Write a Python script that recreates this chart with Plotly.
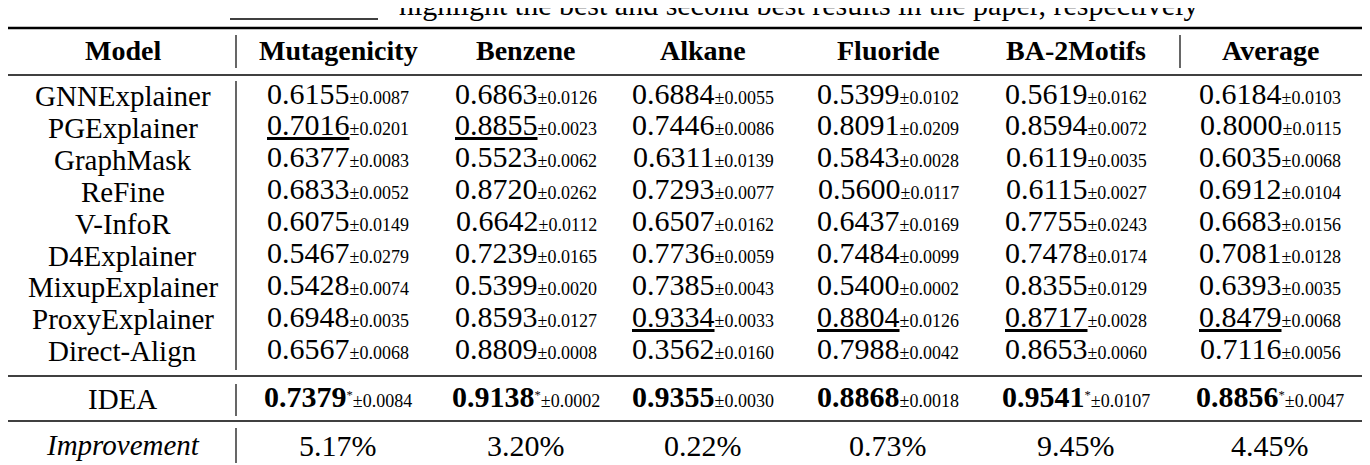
import plotly.graph_objects as go

# Table content
models = ["GNNExplainer", "PGExplainer", "GraphMask", "ReFine", "V-InfoR",
          "D4Explainer", "MixupExplainer", "ProxyExplainer", "Direct-Align"]
columns = ["Mutagenicity", "Benzene", "Alkane", "Fluoride", "BA-2Motifs", "Average"]

mutagenicity = [0.6155, 0.7016, 0.6377, 0.6833, 0.6075, 0.5467, 0.5428, 0.6948, 0.6567]
mutagenicity_std = [0.0087, 0.0201, 0.0083, 0.0052, 0.0149, 0.0279, 0.0074, 0.0035, 0.0068]
benzene = [0.6863, 0.8855, 0.5523, 0.8720, 0.6642, 0.7239, 0.5399, 0.8593, 0.8809]
benzene_std = [0.0126, 0.0023, 0.0062, 0.0262, 0.0112, 0.0165, 0.0020, 0.0127, 0.0008]
alkane = [0.6884, 0.7446, 0.6311, 0.7293, 0.6507, 0.7736, 0.7385, 0.9334, 0.3562]
alkane_std = [0.0055, 0.0086, 0.0139, 0.0077, 0.0162, 0.0059, 0.0043, 0.0033, 0.0160]
fluoride = [0.5399, 0.8091, 0.5843, 0.5600, 0.6437, 0.7484, 0.5400, 0.8804, 0.7988]
fluoride_std = [0.0102, 0.0209, 0.0028, 0.0117, 0.0169, 0.0099, 0.0002, 0.0126, 0.0042]
ba2motifs = [0.5619, 0.8594, 0.6119, 0.6115, 0.7755, 0.7478, 0.8355, 0.8717, 0.8653]
ba2motifs_std = [0.0162, 0.0072, 0.0035, 0.0027, 0.0243, 0.0174, 0.0129, 0.0028, 0.0060]
average = [0.6184, 0.8000, 0.6035, 0.6912, 0.6683, 0.7081, 0.6393, 0.8479, 0.7116]
average_std = [0.0103, 0.0115, 0.0068, 0.0104, 0.0156, 0.0128, 0.0035, 0.0068, 0.0056]
# index of second best (underlined) per column
second_best = [1, 1, 7, 7, 7, 7]

idea = [0.7379, 0.9138, 0.9355, 0.8868, 0.9541, 0.8856]
idea_std = [0.0084, 0.0002, 0.0030, 0.0018, 0.0107, 0.0047]
idea_star = [True, True, False, False, True, True]
improvement = ["5.17%", "3.20%", "0.22%", "0.73%", "9.45%", "4.45%"]

values = [mutagenicity, benzene, alkane, fluoride, ba2motifs, average]
stds = [mutagenicity_std, benzene_std, alkane_std, fluoride_std, ba2motifs_std, average_std]

W, H = 1370, 465
FONT = "Liberation Serif"
col_x = [115, 330, 518, 695, 880, 1068, 1262]
row_y0, row_dy = 88, 31.9

def py(y):
    return 1 - y / H

def px(x):
    return x / W

fig = go.Figure()
ann = []

def add(x, y, text, size=29):
    ann.append(dict(x=px(x), y=py(y), xref="paper", yref="paper", text=text,
                    showarrow=False, font=dict(family=FONT, size=size, color="black"),
                    xanchor="center", yanchor="middle"))

# cropped caption line at top
add(790, -4, "highlight the best and second best results in the paper, respectively", 30)

add(col_x[0], 42, "<b>Model</b>", 28)
for i, c in enumerate(columns):
    add(col_x[i + 1], 42, f"<b>{c}</b>", 28)

def pm(s):
    return f"<span style='font-size:18px'>±{s:.4f}</span>"

for r, m in enumerate(models):
    y = row_y0 + r * row_dy
    add(col_x[0], y, m)
    for c in range(6):
        v = f"{values[c][r]:.4f}"
        if second_best[c] == r:
            v = f"<span style='text-decoration:underline'>{v}</span>"
        add(col_x[c + 1], y - 3, v + pm(stds[c][r]), 30)

add(col_x[0], 391, "IDEA")
for c in range(6):
    star = "<span style='font-size:18px'><sup>*</sup></span>" if idea_star[c] else ""
    add(col_x[c + 1], 388, f"<b>{idea[c]:.4f}</b>{star}" + pm(idea_std[c]), 30)

add(col_x[0], 437, "<i>Improvement</i>")
for c in range(6):
    add(col_x[c + 1], 437, improvement[c], 30)

shapes = []
def hline(y, w):
    shapes.append(dict(type="line", xref="paper", yref="paper", x0=0, x1=1,
                       y0=py(y), y1=py(y), line=dict(color="black", width=w)))
def vline(x, y0, y1):
    shapes.append(dict(type="line", xref="paper", yref="paper", x0=px(x), x1=px(x),
                       y0=py(y0), y1=py(y1), line=dict(color="black", width=1.2)))

hline(20, 2.5)
hline(67, 1.3)
hline(368, 1.3)
hline(413, 1.3)
hline(461, 2.5)
# underline marker in caption
shapes.append(dict(type="line", xref="paper", yref="paper", x0=px(222), x1=px(370),
                   y0=py(11), y1=py(11), line=dict(color="black", width=1.5)))
for x in (228, 1172):
    vline(x, 27, 60)
vline(228, 73, 362)
vline(228, 376, 408)
vline(228, 420, 455)

fig.update_layout(width=W, height=H, margin=dict(l=0, r=0, t=0, b=0),
                  paper_bgcolor="white", plot_bgcolor="white",
                  xaxis=dict(visible=False), yaxis=dict(visible=False),
                  annotations=ann, shapes=shapes)
fig.write_html("out.html")
